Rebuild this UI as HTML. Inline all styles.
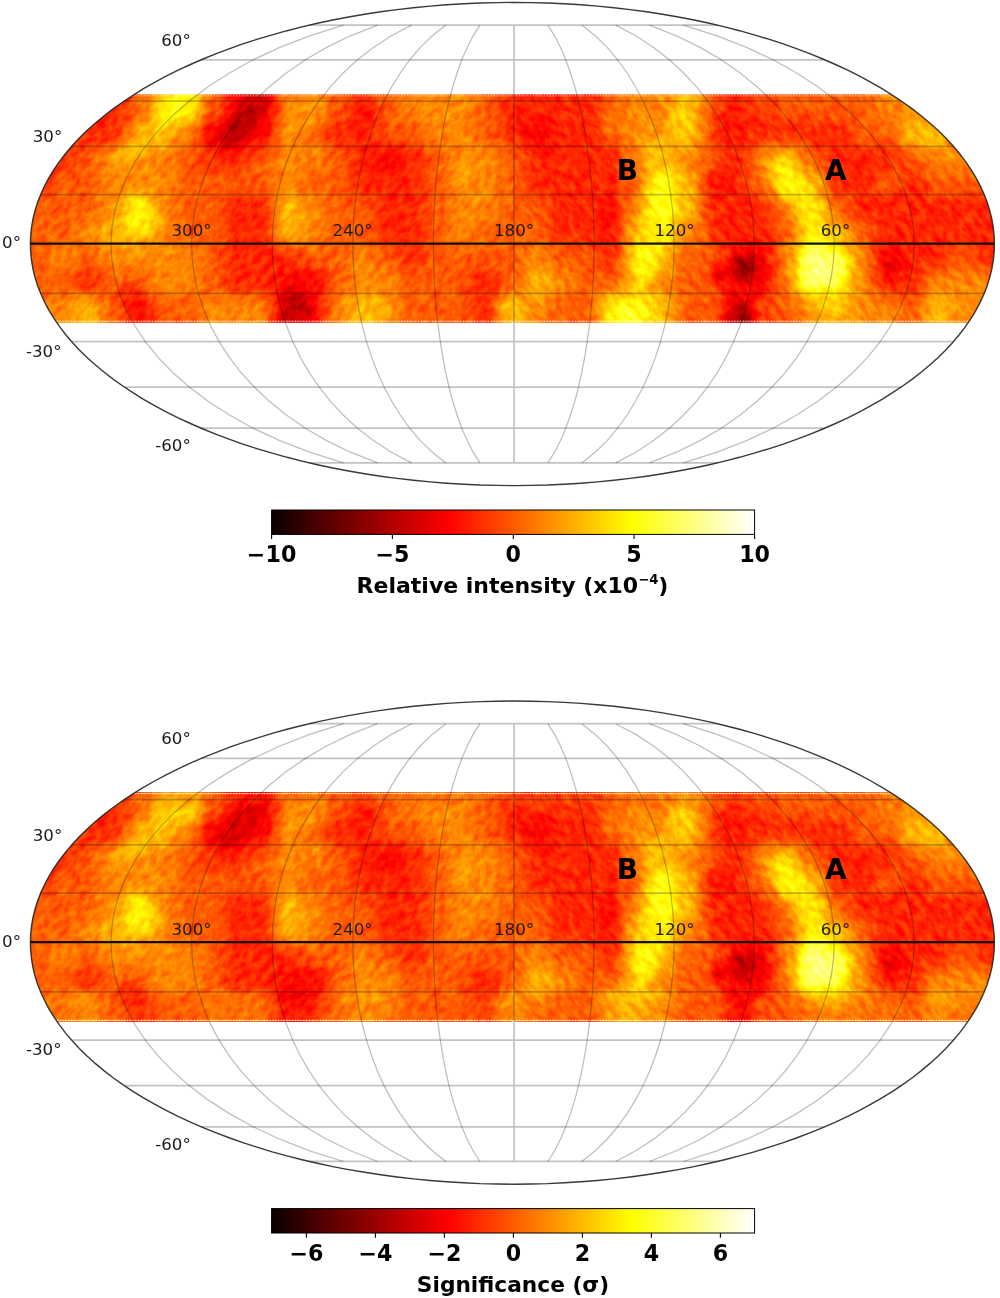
<!DOCTYPE html>
<html lang="en"><head><meta charset="utf-8"><title>Sky maps</title>
<style>html,body{margin:0;padding:0;background:#fff}svg{display:block}text{font-family:"DejaVu Sans","Liberation Sans",sans-serif}</style>
</head><body>
<svg width="1000" height="1298" viewBox="0 0 1000 1298" font-size="16.67" fill="#1c1c1c">
<defs>
<filter id="hotL" filterUnits="userSpaceOnUse" x="12" y="-52" width="520" height="520" color-interpolation-filters="sRGB">
<feTurbulence type="fractalNoise" baseFrequency="0.1 0.16" numOctaves="3" seed="7" result="n"/>
<feColorMatrix in="n" type="matrix" values="1 0 0 0 0 1 0 0 0 0 1 0 0 0 0 0 0 0 0 1" result="ng"/>
<feComposite in="SourceGraphic" in2="ng" operator="arithmetic" k1="0" k2="1" k3="0.18" k4="-0.09" result="s"/>
<feComponentTransfer in="s">
<feFuncR type="table" tableValues="0.042 0.083 0.124 0.165 0.206 0.247 0.288 0.329 0.370 0.411 0.452 0.493 0.534 0.575 0.616 0.657 0.698 0.739 0.780 0.821 0.862 0.903 0.944 0.985 1.000 1.000 1.000 1.000 1.000 1.000 1.000 1.000 1.000 1.000 1.000 1.000 1.000 1.000 1.000 1.000 1.000 1.000 1.000 1.000 1.000 1.000 1.000 1.000 1.000 1.000 1.000 1.000 1.000 1.000 1.000 1.000 1.000 1.000 1.000 1.000 1.000 1.000 1.000 1.000 1.000"/>
<feFuncG type="table" tableValues="0.000 0.000 0.000 0.000 0.000 0.000 0.000 0.000 0.000 0.000 0.000 0.000 0.000 0.000 0.000 0.000 0.000 0.000 0.000 0.000 0.000 0.000 0.000 0.000 0.026 0.067 0.108 0.149 0.190 0.231 0.272 0.313 0.354 0.395 0.436 0.477 0.518 0.559 0.600 0.641 0.682 0.723 0.764 0.805 0.846 0.887 0.928 0.969 1.000 1.000 1.000 1.000 1.000 1.000 1.000 1.000 1.000 1.000 1.000 1.000 1.000 1.000 1.000 1.000 1.000"/>
<feFuncB type="table" tableValues="0.000 0.000 0.000 0.000 0.000 0.000 0.000 0.000 0.000 0.000 0.000 0.000 0.000 0.000 0.000 0.000 0.000 0.000 0.000 0.000 0.000 0.000 0.000 0.000 0.000 0.000 0.000 0.000 0.000 0.000 0.000 0.000 0.000 0.000 0.000 0.000 0.000 0.000 0.000 0.000 0.000 0.000 0.000 0.000 0.000 0.000 0.000 0.000 0.016 0.077 0.139 0.200 0.262 0.323 0.385 0.446 0.508 0.569 0.631 0.692 0.754 0.815 0.877 0.938 1.000"/>
</feComponentTransfer>
</filter>
<filter id="hotR" filterUnits="userSpaceOnUse" x="495" y="-52" width="520" height="520" color-interpolation-filters="sRGB">
<feTurbulence type="fractalNoise" baseFrequency="0.1 0.16" numOctaves="3" seed="11" result="n"/>
<feColorMatrix in="n" type="matrix" values="1 0 0 0 0 1 0 0 0 0 1 0 0 0 0 0 0 0 0 1" result="ng"/>
<feComposite in="SourceGraphic" in2="ng" operator="arithmetic" k1="0" k2="1" k3="0.18" k4="-0.09" result="s"/>
<feComponentTransfer in="s">
<feFuncR type="table" tableValues="0.042 0.083 0.124 0.165 0.206 0.247 0.288 0.329 0.370 0.411 0.452 0.493 0.534 0.575 0.616 0.657 0.698 0.739 0.780 0.821 0.862 0.903 0.944 0.985 1.000 1.000 1.000 1.000 1.000 1.000 1.000 1.000 1.000 1.000 1.000 1.000 1.000 1.000 1.000 1.000 1.000 1.000 1.000 1.000 1.000 1.000 1.000 1.000 1.000 1.000 1.000 1.000 1.000 1.000 1.000 1.000 1.000 1.000 1.000 1.000 1.000 1.000 1.000 1.000 1.000"/>
<feFuncG type="table" tableValues="0.000 0.000 0.000 0.000 0.000 0.000 0.000 0.000 0.000 0.000 0.000 0.000 0.000 0.000 0.000 0.000 0.000 0.000 0.000 0.000 0.000 0.000 0.000 0.000 0.026 0.067 0.108 0.149 0.190 0.231 0.272 0.313 0.354 0.395 0.436 0.477 0.518 0.559 0.600 0.641 0.682 0.723 0.764 0.805 0.846 0.887 0.928 0.969 1.000 1.000 1.000 1.000 1.000 1.000 1.000 1.000 1.000 1.000 1.000 1.000 1.000 1.000 1.000 1.000 1.000"/>
<feFuncB type="table" tableValues="0.000 0.000 0.000 0.000 0.000 0.000 0.000 0.000 0.000 0.000 0.000 0.000 0.000 0.000 0.000 0.000 0.000 0.000 0.000 0.000 0.000 0.000 0.000 0.000 0.000 0.000 0.000 0.000 0.000 0.000 0.000 0.000 0.000 0.000 0.000 0.000 0.000 0.000 0.000 0.000 0.000 0.000 0.000 0.000 0.000 0.000 0.000 0.000 0.016 0.077 0.139 0.200 0.262 0.323 0.385 0.446 0.508 0.569 0.631 0.692 0.754 0.815 0.877 0.938 1.000"/>
</feComponentTransfer>
</filter>
<filter id="b1" filterUnits="userSpaceOnUse" x="-40" y="20" width="1080" height="380" color-interpolation-filters="sRGB"><feGaussianBlur stdDeviation="8"/></filter>
<filter id="b2" filterUnits="userSpaceOnUse" x="-40" y="20" width="1080" height="380" color-interpolation-filters="sRGB"><feGaussianBlur stdDeviation="5.5"/></filter>
<linearGradient id="cbg" x1="0" x2="1" y1="0" y2="0">
<stop offset="0" stop-color="#0b0000"/><stop offset="0.365" stop-color="#ff0000"/><stop offset="0.746" stop-color="#ffff00"/><stop offset="1" stop-color="#ffffff"/>
</linearGradient>
<clipPath id="ell"><path d="M514.0 485.6 L530.8 485.4 L547.5 485.0 L564.2 484.2 L580.9 483.2 L597.4 481.9 L613.9 480.3 L630.2 478.4 L646.4 476.2 L662.5 473.7 L678.3 471.0 L694.0 468.0 L709.4 464.7 L724.6 461.1 L739.5 457.3 L754.2 453.2 L768.6 448.8 L782.6 444.3 L796.4 439.4 L809.8 434.3 L822.8 429.0 L835.5 423.5 L847.7 417.8 L859.6 411.8 L871.0 405.6 L882.0 399.3 L892.6 392.7 L902.7 386.0 L912.3 379.1 L921.4 372.0 L930.0 364.8 L938.2 357.4 L945.8 349.9 L952.9 342.2 L959.4 334.5 L965.4 326.6 L970.9 318.6 L975.8 310.6 L980.1 302.4 L983.9 294.2 L987.1 285.9 L989.7 277.6 L991.8 269.2 L993.2 260.8 L994.1 252.4 L994.4 244.0 L994.1 235.6 L993.2 227.2 L991.8 218.8 L989.7 210.4 L987.1 202.1 L983.9 193.8 L980.1 185.6 L975.8 177.4 L970.9 169.4 L965.4 161.4 L959.4 153.5 L952.9 145.8 L945.8 138.1 L938.2 130.6 L930.0 123.2 L921.4 116.0 L912.3 108.9 L902.7 102.0 L892.6 95.3 L882.0 88.7 L871.0 82.4 L859.6 76.2 L847.7 70.2 L835.5 64.5 L822.8 59.0 L809.8 53.7 L796.4 48.6 L782.6 43.7 L768.6 39.2 L754.2 34.8 L739.5 30.7 L724.6 26.9 L709.4 23.3 L694.0 20.0 L678.3 17.0 L662.5 14.3 L646.4 11.8 L630.2 9.6 L613.9 7.7 L597.4 6.1 L580.9 4.8 L564.2 3.8 L547.5 3.0 L530.8 2.6 L514.0 2.4 L514.0 2.4 L497.1 2.6 L480.3 3.0 L463.5 3.8 L446.7 4.8 L430.0 6.1 L413.5 7.7 L397.0 9.6 L380.7 11.8 L364.6 14.3 L348.6 17.0 L332.8 20.0 L317.3 23.3 L302.0 26.9 L287.0 30.7 L272.2 34.8 L257.7 39.2 L243.6 43.7 L229.7 48.6 L216.3 53.7 L203.1 59.0 L190.4 64.5 L178.1 70.2 L166.1 76.2 L154.6 82.4 L143.5 88.7 L132.9 95.3 L122.8 102.0 L113.1 108.9 L103.9 116.0 L95.2 123.2 L87.0 130.6 L79.3 138.1 L72.2 145.8 L65.6 153.5 L59.6 161.4 L54.1 169.4 L49.1 177.4 L44.8 185.6 L41.0 193.8 L37.7 202.1 L35.1 210.4 L33.0 218.8 L31.6 227.2 L30.7 235.6 L30.4 244.0 L30.7 252.4 L31.6 260.8 L33.0 269.2 L35.1 277.6 L37.7 285.9 L41.0 294.2 L44.8 302.4 L49.1 310.6 L54.1 318.6 L59.6 326.6 L65.6 334.5 L72.2 342.2 L79.3 349.9 L87.0 357.4 L95.2 364.8 L103.9 372.0 L113.1 379.1 L122.8 386.0 L132.9 392.7 L143.5 399.3 L154.6 405.6 L166.1 411.8 L178.1 417.8 L190.4 423.5 L203.1 429.0 L216.3 434.3 L229.7 439.4 L243.6 444.3 L257.7 448.8 L272.2 453.2 L287.0 457.3 L302.0 461.1 L317.3 464.7 L332.8 468.0 L348.6 471.0 L364.6 473.7 L380.7 476.2 L397.0 478.4 L413.5 480.3 L430.0 481.9 L446.7 483.2 L463.5 484.2 L480.3 485.0 L497.1 485.4 L514.0 485.6Z"/></clipPath>
<clipPath id="cL"><rect x="0" y="80" width="514" height="260"/></clipPath><clipPath id="cR"><rect x="514" y="80" width="500" height="260"/></clipPath>
<clipPath id="band"><rect x="0" y="94.3" width="1000" height="228.2"/></clipPath>
<pattern id="sawT" x="0" y="94.3" width="2.8" height="2" patternUnits="userSpaceOnUse"><path d="M0 0L1.4 1.4L2.8 0z" fill="#fff"/></pattern>
<pattern id="sawB" x="0" y="320.5" width="2.8" height="2" patternUnits="userSpaceOnUse"><path d="M0 2L1.4 0.6L2.8 2z" fill="#fff"/></pattern>
<path id="grat" d="M343.5 462.9 L309.7 452.2 L279.8 440.6 L253.2 428.2 L229.4 415.0 L208.1 401.3 L189.2 387.0 L172.5 372.3 L157.9 357.1 L145.3 341.6 L134.8 325.8 L126.2 309.7 L119.5 293.4 L114.8 277.0 L111.9 260.5 L111.0 244.0 L111.9 227.5 L114.8 211.0 L119.5 194.6 L126.2 178.3 L134.8 162.2 L145.3 146.4 L157.9 130.9 L172.5 115.7 L189.2 101.0 L208.1 86.7 L229.4 73.0 L253.2 59.8 L279.8 47.4 L309.7 35.8 L343.5 25.1 M377.6 462.9 L350.5 452.2 L326.6 440.6 L305.4 428.2 L286.3 415.0 L269.3 401.3 L254.2 387.0 L240.8 372.3 L229.1 357.1 L219.1 341.6 L210.6 325.8 L203.8 309.7 L198.4 293.4 L194.6 277.0 L192.4 260.5 L191.6 244.0 L192.4 227.5 L194.6 211.0 L198.4 194.6 L203.8 178.3 L210.6 162.2 L219.1 146.4 L229.1 130.9 L240.8 115.7 L254.2 101.0 L269.3 86.7 L286.3 73.0 L305.4 59.8 L326.6 47.4 L350.5 35.8 L377.6 25.1 M411.7 462.9 L391.4 452.2 L373.5 440.6 L357.5 428.2 L343.2 415.0 L330.5 401.3 L319.1 387.0 L309.1 372.3 L300.3 357.1 L292.8 341.6 L286.5 325.8 L281.3 309.7 L277.3 293.4 L274.5 277.0 L272.8 260.5 L272.2 244.0 L272.8 227.5 L274.5 211.0 L277.3 194.6 L281.3 178.3 L286.5 162.2 L292.8 146.4 L300.3 130.9 L309.1 115.7 L319.1 101.0 L330.5 86.7 L343.2 73.0 L357.5 59.8 L373.5 47.4 L391.4 35.8 L411.7 25.1 M445.8 462.9 L432.3 452.2 L420.3 440.6 L409.7 428.2 L400.2 415.0 L391.7 401.3 L384.1 387.0 L377.4 372.3 L371.6 357.1 L366.5 341.6 L362.3 325.8 L358.9 309.7 L356.2 293.4 L354.3 277.0 L353.2 260.5 L352.8 244.0 L353.2 227.5 L354.3 211.0 L356.2 194.6 L358.9 178.3 L362.3 162.2 L366.5 146.4 L371.6 130.9 L377.4 115.7 L384.1 101.0 L391.7 86.7 L400.2 73.0 L409.7 59.8 L420.3 47.4 L432.3 35.8 L445.8 25.1 M479.9 462.9 L473.1 452.2 L467.2 440.6 L461.8 428.2 L457.1 415.0 L452.8 401.3 L449.0 387.0 L445.7 372.3 L442.8 357.1 L440.3 341.6 L438.2 325.8 L436.4 309.7 L435.1 293.4 L434.2 277.0 L433.6 260.5 L433.4 244.0 L433.6 227.5 L434.2 211.0 L435.1 194.6 L436.4 178.3 L438.2 162.2 L440.3 146.4 L442.8 130.9 L445.7 115.7 L449.0 101.0 L452.8 86.7 L457.1 73.0 L461.8 59.8 L467.2 47.4 L473.1 35.8 L479.9 25.1 M547.9 462.9 L554.6 452.2 L560.5 440.6 L565.8 428.2 L570.5 415.0 L574.8 401.3 L578.5 387.0 L581.8 372.3 L584.7 357.1 L587.2 341.6 L589.3 325.8 L591.0 309.7 L592.4 293.4 L593.3 277.0 L593.9 260.5 L594.1 244.0 L593.9 227.5 L593.3 211.0 L592.4 194.6 L591.0 178.3 L589.3 162.2 L587.2 146.4 L584.7 130.9 L581.8 115.7 L578.5 101.0 L574.8 86.7 L570.5 73.0 L565.8 59.8 L560.5 47.4 L554.6 35.8 L547.9 25.1 M581.8 462.9 L595.2 452.2 L607.1 440.6 L617.6 428.2 L627.1 415.0 L635.5 401.3 L643.1 387.0 L649.7 372.3 L655.5 357.1 L660.5 341.6 L664.7 325.8 L668.1 309.7 L670.7 293.4 L672.6 277.0 L673.8 260.5 L674.1 244.0 L673.8 227.5 L672.6 211.0 L670.7 194.6 L668.1 178.3 L664.7 162.2 L660.5 146.4 L655.5 130.9 L649.7 115.7 L643.1 101.0 L635.5 86.7 L627.1 73.0 L617.6 59.8 L607.1 47.4 L595.2 35.8 L581.8 25.1 M615.6 462.9 L635.8 452.2 L653.6 440.6 L669.4 428.2 L683.6 415.0 L696.3 401.3 L707.6 387.0 L717.5 372.3 L726.2 357.1 L733.7 341.6 L740.0 325.8 L745.1 309.7 L749.1 293.4 L751.9 277.0 L753.6 260.5 L754.2 244.0 L753.6 227.5 L751.9 211.0 L749.1 194.6 L745.1 178.3 L740.0 162.2 L733.7 146.4 L726.2 130.9 L717.5 115.7 L707.6 101.0 L696.3 86.7 L683.6 73.0 L669.4 59.8 L653.6 47.4 L635.8 35.8 L615.6 25.1 M649.5 462.9 L676.4 452.2 L700.1 440.6 L721.3 428.2 L740.2 415.0 L757.1 401.3 L772.1 387.0 L785.4 372.3 L797.0 357.1 L807.0 341.6 L815.4 325.8 L822.2 309.7 L827.5 293.4 L831.3 277.0 L833.5 260.5 L834.3 244.0 L833.5 227.5 L831.3 211.0 L827.5 194.6 L822.2 178.3 L815.4 162.2 L807.0 146.4 L797.0 130.9 L785.4 115.7 L772.1 101.0 L757.1 86.7 L740.2 73.0 L721.3 59.8 L700.1 47.4 L676.4 35.8 L649.5 25.1 M683.4 462.9 L717.0 452.2 L746.6 440.6 L773.1 428.2 L796.7 415.0 L817.8 401.3 L836.6 387.0 L853.2 372.3 L867.7 357.1 L880.2 341.6 L890.7 325.8 L899.2 309.7 L905.9 293.4 L910.6 277.0 L913.4 260.5 L914.3 244.0 L913.4 227.5 L910.6 211.0 L905.9 194.6 L899.2 178.3 L890.7 162.2 L880.2 146.4 L867.7 130.9 L853.2 115.7 L836.6 101.0 L817.8 86.7 L796.7 73.0 L773.1 59.8 L746.6 47.4 L717.0 35.8 L683.4 25.1"/>
<path id="gpar" d="M514.0 25.1V462.9 M309.4 462.9H717.3 M201.1 428.2H824.9 M124.3 387.0H901.2 M71.6 341.6H953.5 M40.6 293.4H984.2 M40.6 194.6H984.2 M71.6 146.4H953.5 M124.3 101.0H901.2 M201.1 59.8H824.9 M309.4 25.1H717.3"/>
<path id="outline" d="M514.0 485.6 L530.8 485.4 L547.5 485.0 L564.2 484.2 L580.9 483.2 L597.4 481.9 L613.9 480.3 L630.2 478.4 L646.4 476.2 L662.5 473.7 L678.3 471.0 L694.0 468.0 L709.4 464.7 L724.6 461.1 L739.5 457.3 L754.2 453.2 L768.6 448.8 L782.6 444.3 L796.4 439.4 L809.8 434.3 L822.8 429.0 L835.5 423.5 L847.7 417.8 L859.6 411.8 L871.0 405.6 L882.0 399.3 L892.6 392.7 L902.7 386.0 L912.3 379.1 L921.4 372.0 L930.0 364.8 L938.2 357.4 L945.8 349.9 L952.9 342.2 L959.4 334.5 L965.4 326.6 L970.9 318.6 L975.8 310.6 L980.1 302.4 L983.9 294.2 L987.1 285.9 L989.7 277.6 L991.8 269.2 L993.2 260.8 L994.1 252.4 L994.4 244.0 L994.1 235.6 L993.2 227.2 L991.8 218.8 L989.7 210.4 L987.1 202.1 L983.9 193.8 L980.1 185.6 L975.8 177.4 L970.9 169.4 L965.4 161.4 L959.4 153.5 L952.9 145.8 L945.8 138.1 L938.2 130.6 L930.0 123.2 L921.4 116.0 L912.3 108.9 L902.7 102.0 L892.6 95.3 L882.0 88.7 L871.0 82.4 L859.6 76.2 L847.7 70.2 L835.5 64.5 L822.8 59.0 L809.8 53.7 L796.4 48.6 L782.6 43.7 L768.6 39.2 L754.2 34.8 L739.5 30.7 L724.6 26.9 L709.4 23.3 L694.0 20.0 L678.3 17.0 L662.5 14.3 L646.4 11.8 L630.2 9.6 L613.9 7.7 L597.4 6.1 L580.9 4.8 L564.2 3.8 L547.5 3.0 L530.8 2.6 L514.0 2.4 L514.0 2.4 L497.1 2.6 L480.3 3.0 L463.5 3.8 L446.7 4.8 L430.0 6.1 L413.5 7.7 L397.0 9.6 L380.7 11.8 L364.6 14.3 L348.6 17.0 L332.8 20.0 L317.3 23.3 L302.0 26.9 L287.0 30.7 L272.2 34.8 L257.7 39.2 L243.6 43.7 L229.7 48.6 L216.3 53.7 L203.1 59.0 L190.4 64.5 L178.1 70.2 L166.1 76.2 L154.6 82.4 L143.5 88.7 L132.9 95.3 L122.8 102.0 L113.1 108.9 L103.9 116.0 L95.2 123.2 L87.0 130.6 L79.3 138.1 L72.2 145.8 L65.6 153.5 L59.6 161.4 L54.1 169.4 L49.1 177.4 L44.8 185.6 L41.0 193.8 L37.7 202.1 L35.1 210.4 L33.0 218.8 L31.6 227.2 L30.7 235.6 L30.4 244.0 L30.7 252.4 L31.6 260.8 L33.0 269.2 L35.1 277.6 L37.7 285.9 L41.0 294.2 L44.8 302.4 L49.1 310.6 L54.1 318.6 L59.6 326.6 L65.6 334.5 L72.2 342.2 L79.3 349.9 L87.0 357.4 L95.2 364.8 L103.9 372.0 L113.1 379.1 L122.8 386.0 L132.9 392.7 L143.5 399.3 L154.6 405.6 L166.1 411.8 L178.1 417.8 L190.4 423.5 L203.1 429.0 L216.3 434.3 L229.7 439.4 L243.6 444.3 L257.7 448.8 L272.2 453.2 L287.0 457.3 L302.0 461.1 L317.3 464.7 L332.8 468.0 L348.6 471.0 L364.6 473.7 L380.7 476.2 L397.0 478.4 L413.5 480.3 L430.0 481.9 L446.7 483.2 L463.5 484.2 L480.3 485.0 L497.1 485.4 L514.0 485.6Z"/>

<g id="fieldA"><rect x="0" y="60" width="1000" height="300" fill="rgb(125,125,125)"/>
<g filter="url(#b1)">
<path fill="rgb(64,64,64)" d="M250 60h25v35h-25zM250 95h25v25h-25zM225 120h25v25h-25zM275 295h25v25h-25zM725 295h25v25h-25zM275 320h25v40h-25zM725 320h25v40h-25z"/>
<path fill="rgb(89,89,89)" d="M225 60h25v35h-25zM225 95h25v25h-25zM200 120h25v25h-25zM250 120h25v25h-25zM525 120h25v25h-25zM375 145h25v25h-25zM725 245h25v25h-25zM750 245h25v25h-25zM875 245h25v25h-25zM275 270h25v25h-25zM300 270h25v25h-25zM725 270h25v25h-25zM750 270h25v25h-25zM300 295h25v25h-25zM300 320h25v40h-25z"/>
<path fill="rgb(107,107,107)" d="M-20 60h45v35h-45zM25 60h25v35h-25zM50 60h25v35h-25zM75 60h25v35h-25zM100 60h25v35h-25zM350 60h25v35h-25zM500 60h25v35h-25zM525 60h25v35h-25zM550 60h25v35h-25zM575 60h25v35h-25zM725 60h25v35h-25zM-20 95h45v25h-45zM25 95h25v25h-25zM50 95h25v25h-25zM75 95h25v25h-25zM100 95h25v25h-25zM350 95h25v25h-25zM500 95h25v25h-25zM525 95h25v25h-25zM550 95h25v25h-25zM575 95h25v25h-25zM725 95h25v25h-25zM-20 120h45v25h-45zM25 120h25v25h-25zM50 120h25v25h-25zM75 120h25v25h-25zM100 120h25v25h-25zM325 120h25v25h-25zM350 120h25v25h-25zM500 120h25v25h-25zM550 120h25v25h-25zM575 120h25v25h-25zM725 120h25v25h-25zM750 120h25v25h-25zM775 120h25v25h-25zM800 120h25v25h-25zM825 120h25v25h-25zM-20 145h45v25h-45zM25 145h25v25h-25zM50 145h25v25h-25zM200 145h25v25h-25zM225 145h25v25h-25zM350 145h25v25h-25zM400 145h25v25h-25zM525 145h25v25h-25zM550 145h25v25h-25zM575 145h25v25h-25zM600 145h25v25h-25zM725 145h25v25h-25zM825 145h25v25h-25zM850 145h25v25h-25zM875 145h25v25h-25zM-20 170h45v25h-45zM25 170h25v25h-25zM350 170h25v25h-25zM375 170h25v25h-25zM400 170h25v25h-25zM525 170h25v25h-25zM550 170h25v25h-25zM575 170h25v25h-25zM600 170h25v25h-25zM700 170h25v25h-25zM725 170h25v25h-25zM825 170h25v25h-25zM850 170h25v25h-25zM900 170h25v25h-25zM225 195h25v25h-25zM250 195h25v25h-25zM375 195h25v25h-25zM400 195h25v25h-25zM550 195h25v25h-25zM575 195h25v25h-25zM600 195h25v25h-25zM725 195h25v25h-25zM750 195h25v25h-25zM850 195h25v25h-25zM875 195h25v25h-25zM900 195h25v25h-25zM925 195h25v25h-25zM950 195h25v25h-25zM975 195h25v25h-25zM1000 195h45v25h-45zM225 220h25v25h-25zM250 220h25v25h-25zM375 220h25v25h-25zM400 220h25v25h-25zM550 220h25v25h-25zM575 220h25v25h-25zM600 220h25v25h-25zM725 220h25v25h-25zM750 220h25v25h-25zM875 220h25v25h-25zM900 220h25v25h-25zM925 220h25v25h-25zM950 220h25v25h-25zM975 220h25v25h-25zM1000 220h45v25h-45zM225 245h25v25h-25zM250 245h25v25h-25zM275 245h25v25h-25zM400 245h25v25h-25zM600 245h25v25h-25zM900 245h25v25h-25zM925 245h25v25h-25zM975 245h25v25h-25zM1000 245h45v25h-45zM75 270h25v25h-25zM225 270h25v25h-25zM250 270h25v25h-25zM475 270h25v25h-25zM875 270h25v25h-25zM900 270h25v25h-25zM125 295h25v25h-25zM475 295h25v25h-25zM125 320h25v40h-25zM475 320h25v40h-25z"/>
<path fill="rgb(117,117,117)" d="M750 60h25v35h-25zM750 95h25v25h-25zM750 295h25v25h-25zM750 320h25v40h-25z"/>
<path fill="rgb(128,128,128)" d="M125 60h25v35h-25zM200 60h25v35h-25zM325 60h25v35h-25zM375 60h25v35h-25zM475 60h25v35h-25zM600 60h25v35h-25zM700 60h25v35h-25zM775 60h25v35h-25zM800 60h25v35h-25zM825 60h25v35h-25zM850 60h25v35h-25zM125 95h25v25h-25zM200 95h25v25h-25zM325 95h25v25h-25zM375 95h25v25h-25zM475 95h25v25h-25zM600 95h25v25h-25zM700 95h25v25h-25zM775 95h25v25h-25zM800 95h25v25h-25zM825 95h25v25h-25zM850 95h25v25h-25zM300 120h25v25h-25zM375 120h25v25h-25zM400 120h25v25h-25zM475 120h25v25h-25zM600 120h25v25h-25zM700 120h25v25h-25zM850 120h25v25h-25zM875 120h25v25h-25zM75 145h25v25h-25zM175 145h25v25h-25zM250 145h25v25h-25zM325 145h25v25h-25zM425 145h25v25h-25zM500 145h25v25h-25zM700 145h25v25h-25zM800 145h25v25h-25zM900 145h25v25h-25zM50 170h25v25h-25zM75 170h25v25h-25zM175 170h25v25h-25zM200 170h25v25h-25zM225 170h25v25h-25zM250 170h25v25h-25zM300 170h25v25h-25zM325 170h25v25h-25zM425 170h25v25h-25zM500 170h25v25h-25zM875 170h25v25h-25zM925 170h25v25h-25zM950 170h25v25h-25zM975 170h25v25h-25zM1000 170h45v25h-45zM-20 195h45v25h-45zM25 195h25v25h-25zM50 195h25v25h-25zM75 195h25v25h-25zM175 195h25v25h-25zM200 195h25v25h-25zM325 195h25v25h-25zM350 195h25v25h-25zM425 195h25v25h-25zM500 195h25v25h-25zM525 195h25v25h-25zM700 195h25v25h-25zM825 195h25v25h-25zM-20 220h45v25h-45zM25 220h25v25h-25zM50 220h25v25h-25zM175 220h25v25h-25zM200 220h25v25h-25zM325 220h25v25h-25zM350 220h25v25h-25zM425 220h25v25h-25zM475 220h25v25h-25zM500 220h25v25h-25zM525 220h25v25h-25zM700 220h25v25h-25zM775 220h25v25h-25zM850 220h25v25h-25zM-20 245h45v25h-45zM25 245h25v25h-25zM75 245h25v25h-25zM200 245h25v25h-25zM300 245h25v25h-25zM325 245h25v25h-25zM375 245h25v25h-25zM425 245h25v25h-25zM450 245h25v25h-25zM475 245h25v25h-25zM500 245h25v25h-25zM550 245h25v25h-25zM575 245h25v25h-25zM675 245h25v25h-25zM700 245h25v25h-25zM950 245h25v25h-25zM-20 270h45v25h-45zM25 270h25v25h-25zM50 270h25v25h-25zM100 270h25v25h-25zM125 270h25v25h-25zM200 270h25v25h-25zM325 270h25v25h-25zM400 270h25v25h-25zM425 270h25v25h-25zM450 270h25v25h-25zM500 270h25v25h-25zM575 270h25v25h-25zM600 270h25v25h-25zM675 270h25v25h-25zM700 270h25v25h-25zM100 295h25v25h-25zM150 295h25v25h-25zM175 295h25v25h-25zM400 295h25v25h-25zM425 295h25v25h-25zM450 295h25v25h-25zM550 295h25v25h-25zM575 295h25v25h-25zM675 295h25v25h-25zM700 295h25v25h-25zM775 295h25v25h-25zM900 295h25v25h-25zM100 320h25v40h-25zM150 320h25v40h-25zM175 320h25v40h-25zM400 320h25v40h-25zM425 320h25v40h-25zM450 320h25v40h-25zM550 320h25v40h-25zM575 320h25v40h-25zM675 320h25v40h-25zM700 320h25v40h-25zM775 320h25v40h-25zM900 320h25v40h-25z"/>
<path fill="rgb(136,136,136)" d="M750 170h25v25h-25z"/>
<path fill="rgb(145,145,145)" d="M275 60h25v35h-25zM300 60h25v35h-25zM400 60h25v35h-25zM425 60h25v35h-25zM450 60h25v35h-25zM625 60h25v35h-25zM650 60h25v35h-25zM875 60h25v35h-25zM900 60h25v35h-25zM925 60h25v35h-25zM950 60h25v35h-25zM975 60h25v35h-25zM1000 60h45v35h-45zM275 95h25v25h-25zM300 95h25v25h-25zM400 95h25v25h-25zM425 95h25v25h-25zM450 95h25v25h-25zM625 95h25v25h-25zM650 95h25v25h-25zM875 95h25v25h-25zM900 95h25v25h-25zM925 95h25v25h-25zM950 95h25v25h-25zM975 95h25v25h-25zM1000 95h45v25h-45zM125 120h25v25h-25zM175 120h25v25h-25zM275 120h25v25h-25zM425 120h25v25h-25zM450 120h25v25h-25zM625 120h25v25h-25zM650 120h25v25h-25zM950 120h25v25h-25zM975 120h25v25h-25zM1000 120h45v25h-45zM100 145h25v25h-25zM125 145h25v25h-25zM150 145h25v25h-25zM275 145h25v25h-25zM300 145h25v25h-25zM450 145h25v25h-25zM475 145h25v25h-25zM625 145h25v25h-25zM675 145h25v25h-25zM750 145h25v25h-25zM925 145h25v25h-25zM950 145h25v25h-25zM975 145h25v25h-25zM1000 145h45v25h-45zM100 170h25v25h-25zM125 170h25v25h-25zM150 170h25v25h-25zM275 170h25v25h-25zM450 170h25v25h-25zM475 170h25v25h-25zM625 170h25v25h-25zM100 195h25v25h-25zM150 195h25v25h-25zM300 195h25v25h-25zM450 195h25v25h-25zM475 195h25v25h-25zM775 195h25v25h-25zM75 220h25v25h-25zM150 220h25v25h-25zM300 220h25v25h-25zM450 220h25v25h-25zM675 220h25v25h-25zM50 245h25v25h-25zM100 245h25v25h-25zM125 245h25v25h-25zM150 245h25v25h-25zM175 245h25v25h-25zM350 245h25v25h-25zM525 245h25v25h-25zM775 245h25v25h-25zM850 245h25v25h-25zM150 270h25v25h-25zM175 270h25v25h-25zM350 270h25v25h-25zM375 270h25v25h-25zM550 270h25v25h-25zM650 270h25v25h-25zM775 270h25v25h-25zM850 270h25v25h-25zM925 270h25v25h-25zM950 270h25v25h-25zM975 270h25v25h-25zM1000 270h45v25h-45zM-20 295h45v25h-45zM25 295h25v25h-25zM50 295h25v25h-25zM200 295h25v25h-25zM225 295h25v25h-25zM250 295h25v25h-25zM325 295h25v25h-25zM375 295h25v25h-25zM525 295h25v25h-25zM800 295h25v25h-25zM850 295h25v25h-25zM875 295h25v25h-25zM950 295h25v25h-25zM975 295h25v25h-25zM1000 295h45v25h-45zM-20 320h45v40h-45zM25 320h25v40h-25zM50 320h25v40h-25zM200 320h25v40h-25zM225 320h25v40h-25zM250 320h25v40h-25zM325 320h25v40h-25zM375 320h25v40h-25zM525 320h25v40h-25zM800 320h25v40h-25zM850 320h25v40h-25zM875 320h25v40h-25zM950 320h25v40h-25zM975 320h25v40h-25zM1000 320h45v40h-45z"/>
<path fill="rgb(166,166,166)" d="M150 60h25v35h-25zM675 60h25v35h-25zM150 95h25v25h-25zM675 95h25v25h-25zM150 120h25v25h-25zM675 120h25v25h-25zM900 120h25v25h-25zM925 120h25v25h-25zM650 145h25v25h-25zM775 145h25v25h-25zM675 170h25v25h-25zM800 170h25v25h-25zM275 195h25v25h-25zM625 195h25v25h-25zM675 195h25v25h-25zM100 220h25v25h-25zM125 220h25v25h-25zM275 220h25v25h-25zM625 220h25v25h-25zM825 220h25v25h-25zM650 245h25v25h-25zM525 270h25v25h-25zM625 270h25v25h-25zM75 295h25v25h-25zM350 295h25v25h-25zM500 295h25v25h-25zM650 295h25v25h-25zM825 295h25v25h-25zM925 295h25v25h-25zM75 320h25v40h-25zM350 320h25v40h-25zM500 320h25v40h-25zM650 320h25v40h-25zM825 320h25v40h-25zM925 320h25v40h-25z"/>
<path fill="rgb(189,189,189)" d="M175 60h25v35h-25zM175 95h25v25h-25zM650 170h25v25h-25zM775 170h25v25h-25zM125 195h25v25h-25zM650 195h25v25h-25zM800 195h25v25h-25zM650 220h25v25h-25zM800 220h25v25h-25zM625 245h25v25h-25zM825 245h25v25h-25zM825 270h25v25h-25zM600 295h25v25h-25zM625 295h25v25h-25zM600 320h25v40h-25zM625 320h25v40h-25z"/>
<path fill="rgb(219,219,219)" d="M800 245h25v25h-25zM800 270h25v25h-25z"/>
<ellipse cx="250" cy="118" rx="26" ry="18" fill="rgb(102,102,102)" transform="rotate(-45 250 118)" opacity="0.45"/>
<ellipse cx="292" cy="295" rx="28" ry="20" fill="rgb(102,102,102)" transform="rotate(50 292 295)" opacity="0.45"/>
<ellipse cx="745" cy="290" rx="16" ry="30" fill="rgb(107,107,107)" opacity="0.4"/>
</g><g filter="url(#b2)">
<ellipse cx="625" cy="120" rx="22" ry="20" fill="rgb(143,143,143)" opacity="0.5"/>
<ellipse cx="305" cy="120" rx="26" ry="13" fill="rgb(153,153,153)" transform="rotate(-45 305 120)" opacity="0.6"/>
<ellipse cx="367" cy="118" rx="14" ry="18" fill="rgb(97,97,97)" transform="rotate(-30 367 118)" opacity="0.6"/>
<ellipse cx="462" cy="172" rx="9" ry="12" fill="rgb(163,163,163)" opacity="0.7"/>
<ellipse cx="478" cy="285" rx="18" ry="20" fill="rgb(107,107,107)" opacity="0.5"/>
<ellipse cx="722" cy="205" rx="18" ry="42" fill="rgb(97,97,97)" opacity="0.6"/>
<ellipse cx="244" cy="121" rx="22" ry="9" fill="rgb(56,56,56)" transform="rotate(-48 244 121)" opacity="0.8"/>
<ellipse cx="229" cy="141" rx="8" ry="6" fill="rgb(61,61,61)" opacity="0.7"/>
<ellipse cx="175" cy="108" rx="25" ry="12" fill="rgb(194,194,194)" transform="rotate(-42 175 108)" opacity="0.8"/>
<ellipse cx="138" cy="144" rx="32" ry="11" fill="rgb(173,173,173)" transform="rotate(-43 138 144)" opacity="0.7"/>
<ellipse cx="143" cy="220" rx="17" ry="15" fill="rgb(189,189,189)" opacity="0.8"/>
<ellipse cx="137" cy="305" rx="24" ry="10" fill="rgb(92,92,92)" transform="rotate(50 137 305)" opacity="0.7"/>
<ellipse cx="297" cy="303" rx="16" ry="9" fill="rgb(56,56,56)" transform="rotate(45 297 303)" opacity="0.7"/>
<ellipse cx="378" cy="311" rx="12" ry="9" fill="rgb(173,173,173)" opacity="0.7"/>
<ellipse cx="652" cy="150" rx="9" ry="24" fill="rgb(168,168,168)" transform="rotate(-15 652 150)" opacity="0.6"/>
<ellipse cx="661" cy="200" rx="9" ry="30" fill="rgb(199,199,199)" opacity="0.8"/>
<ellipse cx="647" cy="262" rx="10" ry="24" fill="rgb(194,194,194)" transform="rotate(20 647 262)" opacity="0.8"/>
<ellipse cx="630" cy="314" rx="22" ry="10" fill="rgb(199,199,199)" opacity="0.8"/>
<ellipse cx="681" cy="123" rx="12" ry="22" fill="rgb(178,178,178)" transform="rotate(12 681 123)" opacity="0.7"/>
<ellipse cx="728" cy="125" rx="16" ry="28" fill="rgb(97,97,97)" opacity="0.6"/>
<ellipse cx="610" cy="220" rx="9" ry="25" fill="rgb(92,92,92)" opacity="0.7"/>
<ellipse cx="630" cy="190" rx="8" ry="30" fill="rgb(115,115,115)" opacity="0.6"/>
<ellipse cx="720" cy="275" rx="10" ry="12" fill="rgb(71,71,71)" opacity="0.7"/>
<ellipse cx="506" cy="306" rx="7" ry="9" fill="rgb(178,178,178)" opacity="0.8"/>
<ellipse cx="788" cy="182" rx="30" ry="10" fill="rgb(194,194,194)" transform="rotate(58 788 182)" opacity="0.7"/>
<ellipse cx="824" cy="268" rx="23" ry="18" fill="rgb(222,222,222)" opacity="0.82"/>
<ellipse cx="826" cy="306" rx="18" ry="11" fill="rgb(173,173,173)" opacity="0.7"/>
<ellipse cx="745" cy="268" rx="10" ry="12" fill="rgb(38,38,38)" opacity="0.9"/>
<ellipse cx="745" cy="317" rx="7" ry="7" fill="rgb(26,26,26)" opacity="0.9"/>
<ellipse cx="892" cy="270" rx="10" ry="10" fill="rgb(76,76,76)" opacity="0.7"/>
<ellipse cx="925" cy="138" rx="18" ry="6" fill="rgb(168,168,168)" transform="rotate(25 925 138)" opacity="0.7"/>
</g></g>
<g id="fieldB"><use href="#fieldA"/><g filter="url(#b2)">
<ellipse cx="175" cy="108" rx="25" ry="12" fill="rgb(153,153,153)" transform="rotate(-42 175 108)" opacity="0.5"/>
<ellipse cx="500" cy="316" rx="600" ry="16" fill="rgb(128,128,128)" opacity="0.55"/>
<ellipse cx="500" cy="93" rx="600" ry="16" fill="rgb(128,128,128)" opacity="0.45"/>
<ellipse cx="745" cy="272" rx="14" ry="16" fill="rgb(92,92,92)" opacity="0.45"/>
<ellipse cx="240" cy="125" rx="22" ry="14" fill="rgb(102,102,102)" transform="rotate(-45 240 125)" opacity="0.4"/>
<ellipse cx="296" cy="296" rx="24" ry="16" fill="rgb(102,102,102)" transform="rotate(45 296 296)" opacity="0.45"/>
</g></g>
</defs>
<rect width="1000" height="1298" fill="#fff"/>
<g transform="translate(0 0)">
<g clip-path="url(#ell)"><g clip-path="url(#band)"><g clip-path="url(#cL)"><g transform="rotate(-52 272 208)"><g filter="url(#hotL)"><g transform="rotate(52 272 208)"><use href="#fieldA"/></g></g></g></g><g clip-path="url(#cR)"><g transform="rotate(52 755 208)"><g filter="url(#hotR)"><g transform="rotate(-52 755 208)"><use href="#fieldA"/></g></g></g></g></g></g>
<rect x="30" y="94.3" width="966" height="2" fill="url(#sawT)"/><rect x="30" y="320.5" width="966" height="2" fill="url(#sawB)"/>
<use href="#grat" fill="none" stroke="#000" stroke-opacity="0.26" stroke-width="1.25"/>
<use href="#gpar" fill="none" stroke="#000" stroke-opacity="0.24" stroke-width="1.75"/>
<path d="M30.4 243.6H994.4" stroke="#000" stroke-opacity="0.92" stroke-width="2.2"/>
<use href="#outline" fill="none" stroke="#222" stroke-opacity="0.9" stroke-width="1.4"/>
<text x="627.3" y="180" text-anchor="middle" font-weight="bold" font-size="27.8" fill="#000">B</text>
<text x="835.7" y="180" text-anchor="middle" font-weight="bold" font-size="27.8" fill="#000">A</text>
</g>
<text x="190.8" y="40.3" text-anchor="end" dominant-baseline="central">60°</text>
<text x="62.3" y="136.7" text-anchor="end" dominant-baseline="central">30°</text>
<text x="21" y="242.5" text-anchor="end" dominant-baseline="central">0°</text>
<text x="61.5" y="351" text-anchor="end" dominant-baseline="central">-30°</text>
<text x="190.8" y="445.5" text-anchor="end" dominant-baseline="central">-60°</text>
<text x="191.5" y="236" text-anchor="middle">300°</text>
<text x="352.5" y="236" text-anchor="middle">240°</text>
<text x="514" y="236" text-anchor="middle">180°</text>
<text x="674.5" y="236" text-anchor="middle">120°</text>
<text x="835.5" y="236" text-anchor="middle">60°</text>
<rect x="271.6" y="510" width="483" height="24.4" fill="url(#cbg)" stroke="#000" stroke-width="1"/>
<path d="M271.6 534.4v4.7" stroke="#000" stroke-width="1.1"/>
<text x="271.6" y="562" text-anchor="middle" font-weight="bold" font-size="22.2" fill="#000">−10</text>
<path d="M392.4 534.4v4.7" stroke="#000" stroke-width="1.1"/>
<text x="392.4" y="562" text-anchor="middle" font-weight="bold" font-size="22.2" fill="#000">−5</text>
<path d="M513.3 534.4v4.7" stroke="#000" stroke-width="1.1"/>
<text x="513.3" y="562" text-anchor="middle" font-weight="bold" font-size="22.2" fill="#000">0</text>
<path d="M634 534.4v4.7" stroke="#000" stroke-width="1.1"/>
<text x="634" y="562" text-anchor="middle" font-weight="bold" font-size="22.2" fill="#000">5</text>
<path d="M754.6 534.4v4.7" stroke="#000" stroke-width="1.1"/>
<text x="754.6" y="562" text-anchor="middle" font-weight="bold" font-size="22.2" fill="#000">10</text>
<text x="512.5" y="593.3" text-anchor="middle" font-weight="bold" font-size="22" fill="#000">Relative intensity (x10<tspan dy="-9.6" font-size="13.2">−4</tspan><tspan dy="9.6">)</tspan></text>
<g transform="translate(0 698.6)">
<g clip-path="url(#ell)"><g clip-path="url(#band)"><g clip-path="url(#cL)"><g transform="rotate(-52 272 208)"><g filter="url(#hotL)"><g transform="rotate(52 272 208)"><use href="#fieldB"/></g></g></g></g><g clip-path="url(#cR)"><g transform="rotate(52 755 208)"><g filter="url(#hotR)"><g transform="rotate(-52 755 208)"><use href="#fieldB"/></g></g></g></g></g></g>
<rect x="30" y="94.3" width="966" height="2" fill="url(#sawT)"/><rect x="30" y="320.5" width="966" height="2" fill="url(#sawB)"/>
<use href="#grat" fill="none" stroke="#000" stroke-opacity="0.26" stroke-width="1.25"/>
<use href="#gpar" fill="none" stroke="#000" stroke-opacity="0.24" stroke-width="1.75"/>
<path d="M30.4 243.6H994.4" stroke="#000" stroke-opacity="0.92" stroke-width="2.2"/>
<use href="#outline" fill="none" stroke="#222" stroke-opacity="0.9" stroke-width="1.4"/>
<text x="627.3" y="180" text-anchor="middle" font-weight="bold" font-size="27.8" fill="#000">B</text>
<text x="835.7" y="180" text-anchor="middle" font-weight="bold" font-size="27.8" fill="#000">A</text>
</g>
<text x="190.8" y="738.9" text-anchor="end" dominant-baseline="central">60°</text>
<text x="62.3" y="835.3" text-anchor="end" dominant-baseline="central">30°</text>
<text x="21" y="941.1" text-anchor="end" dominant-baseline="central">0°</text>
<text x="61.5" y="1049.6" text-anchor="end" dominant-baseline="central">-30°</text>
<text x="190.8" y="1144.1" text-anchor="end" dominant-baseline="central">-60°</text>
<text x="191.5" y="934.6" text-anchor="middle">300°</text>
<text x="352.5" y="934.6" text-anchor="middle">240°</text>
<text x="514" y="934.6" text-anchor="middle">180°</text>
<text x="674.5" y="934.6" text-anchor="middle">120°</text>
<text x="835.5" y="934.6" text-anchor="middle">60°</text>
<rect x="271.6" y="1208.6" width="483" height="24.4" fill="url(#cbg)" stroke="#000" stroke-width="1"/>
<path d="M306.4 1233v4.7" stroke="#000" stroke-width="1.1"/>
<text x="306.4" y="1260.6" text-anchor="middle" font-weight="bold" font-size="22.2" fill="#000">−6</text>
<path d="M375.4 1233v4.7" stroke="#000" stroke-width="1.1"/>
<text x="375.4" y="1260.6" text-anchor="middle" font-weight="bold" font-size="22.2" fill="#000">−4</text>
<path d="M444.4 1233v4.7" stroke="#000" stroke-width="1.1"/>
<text x="444.4" y="1260.6" text-anchor="middle" font-weight="bold" font-size="22.2" fill="#000">−2</text>
<path d="M513.4 1233v4.7" stroke="#000" stroke-width="1.1"/>
<text x="513.4" y="1260.6" text-anchor="middle" font-weight="bold" font-size="22.2" fill="#000">0</text>
<path d="M582.4 1233v4.7" stroke="#000" stroke-width="1.1"/>
<text x="582.4" y="1260.6" text-anchor="middle" font-weight="bold" font-size="22.2" fill="#000">2</text>
<path d="M651.4 1233v4.7" stroke="#000" stroke-width="1.1"/>
<text x="651.4" y="1260.6" text-anchor="middle" font-weight="bold" font-size="22.2" fill="#000">4</text>
<path d="M720.4 1233v4.7" stroke="#000" stroke-width="1.1"/>
<text x="720.4" y="1260.6" text-anchor="middle" font-weight="bold" font-size="22.2" fill="#000">6</text>
<text x="513" y="1291.9" text-anchor="middle" font-weight="bold" font-size="21.7" fill="#000">Significance (σ)</text>
</svg></body></html>
